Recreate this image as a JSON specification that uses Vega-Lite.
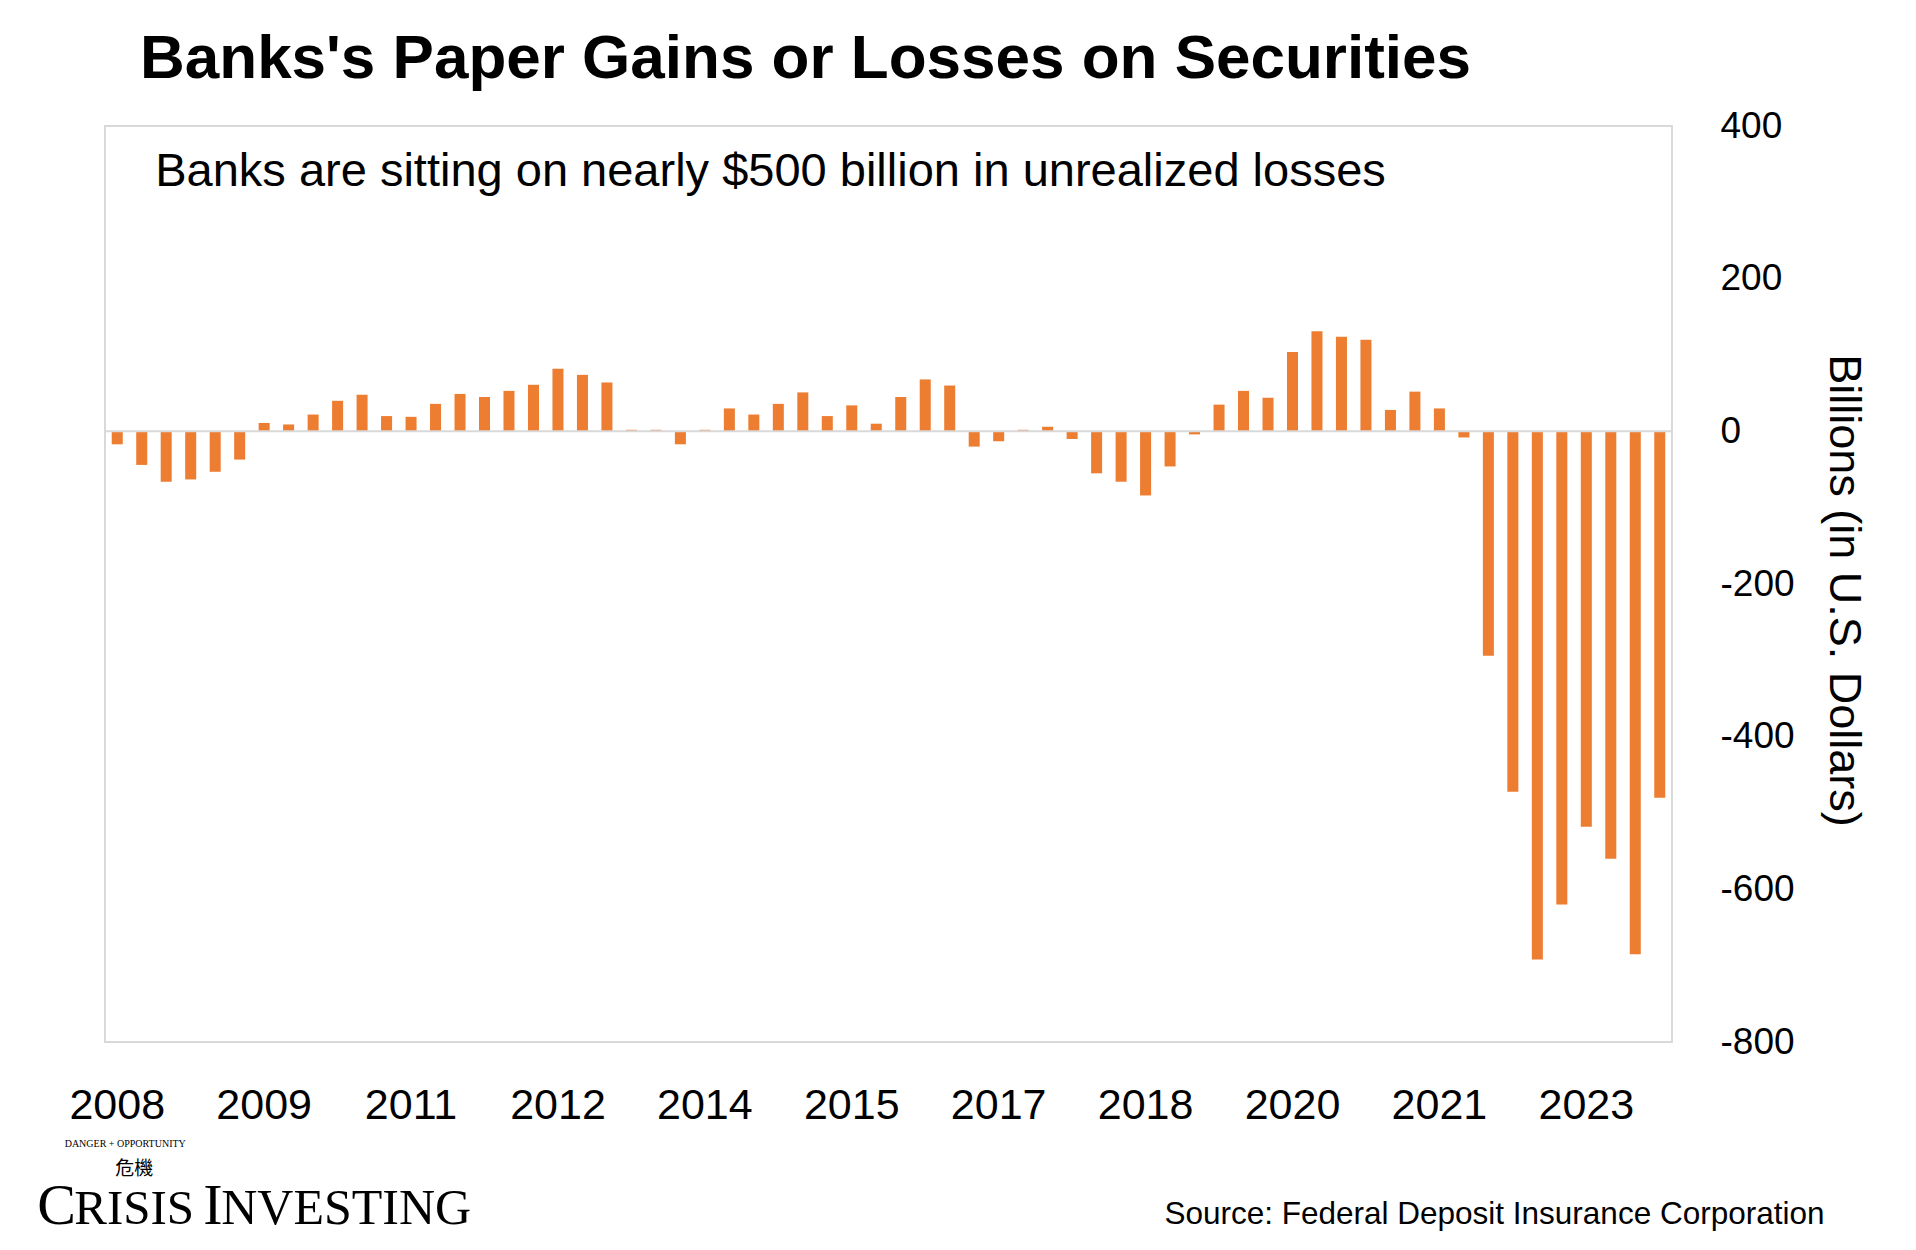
{
  "$schema": "https://vega.github.io/schema/vega-lite/v6.json",
  "width": 1567,
  "height": 916,
  "autosize": {"type": "none"},
  "padding": {"left": 105, "top": 126, "right": 244, "bottom": 208},
  "background": "white",
  "title": {
    "text": "Banks's Paper Gains or Losses on Securities",
    "anchor": "start",
    "frame": "group",
    "font": "Liberation Sans",
    "fontSize": 62,
    "fontWeight": "bold",
    "color": "black",
    "dx": 35,
    "offset": 16
  },
  "config": {
    "view": {"stroke": "#d9d9d9", "strokeWidth": 2},
    "font": "Liberation Sans"
  },
  "layer": [
    {
      "data": {
        "values": [
          {"quarter": "2008Q1", "value": -17}, {"quarter": "2008Q2", "value": -44}, {"quarter": "2008Q3", "value": -66}, {"quarter": "2008Q4", "value": -63},
          {"quarter": "2009Q1", "value": -53}, {"quarter": "2009Q2", "value": -37}, {"quarter": "2009Q3", "value": 11}, {"quarter": "2009Q4", "value": 9},
          {"quarter": "2010Q1", "value": 22}, {"quarter": "2010Q2", "value": 40}, {"quarter": "2010Q3", "value": 48}, {"quarter": "2010Q4", "value": 20},
          {"quarter": "2011Q1", "value": 19}, {"quarter": "2011Q2", "value": 36}, {"quarter": "2011Q3", "value": 49}, {"quarter": "2011Q4", "value": 45},
          {"quarter": "2012Q1", "value": 53}, {"quarter": "2012Q2", "value": 61}, {"quarter": "2012Q3", "value": 82}, {"quarter": "2012Q4", "value": 74},
          {"quarter": "2013Q1", "value": 64}, {"quarter": "2013Q2", "value": 2}, {"quarter": "2013Q3", "value": 2}, {"quarter": "2013Q4", "value": -17},
          {"quarter": "2014Q1", "value": 2}, {"quarter": "2014Q2", "value": 30}, {"quarter": "2014Q3", "value": 22}, {"quarter": "2014Q4", "value": 36},
          {"quarter": "2015Q1", "value": 51}, {"quarter": "2015Q2", "value": 20}, {"quarter": "2015Q3", "value": 34}, {"quarter": "2015Q4", "value": 10},
          {"quarter": "2016Q1", "value": 45}, {"quarter": "2016Q2", "value": 68}, {"quarter": "2016Q3", "value": 60}, {"quarter": "2016Q4", "value": -20},
          {"quarter": "2017Q1", "value": -13}, {"quarter": "2017Q2", "value": 2}, {"quarter": "2017Q3", "value": 6}, {"quarter": "2017Q4", "value": -10},
          {"quarter": "2018Q1", "value": -55}, {"quarter": "2018Q2", "value": -66}, {"quarter": "2018Q3", "value": -84}, {"quarter": "2018Q4", "value": -46},
          {"quarter": "2019Q1", "value": -4}, {"quarter": "2019Q2", "value": 35}, {"quarter": "2019Q3", "value": 53}, {"quarter": "2019Q4", "value": 44},
          {"quarter": "2020Q1", "value": 104}, {"quarter": "2020Q2", "value": 131}, {"quarter": "2020Q3", "value": 124}, {"quarter": "2020Q4", "value": 120},
          {"quarter": "2021Q1", "value": 28}, {"quarter": "2021Q2", "value": 52}, {"quarter": "2021Q3", "value": 30}, {"quarter": "2021Q4", "value": -8},
          {"quarter": "2022Q1", "value": -294}, {"quarter": "2022Q2", "value": -472}, {"quarter": "2022Q3", "value": -692}, {"quarter": "2022Q4", "value": -620},
          {"quarter": "2023Q1", "value": -518}, {"quarter": "2023Q2", "value": -560}, {"quarter": "2023Q3", "value": -685}, {"quarter": "2023Q4", "value": -480}
        ]
      },
      "mark": {"type": "bar", "color": "#ED7D31"},
      "encoding": {
        "x": {
          "field": "quarter",
          "type": "ordinal",
          "sort": null,
          "scale": {"paddingInner": 0.55, "paddingOuter": 0.275},
          "axis": {
            "values": ["2008Q1", "2009Q3", "2011Q1", "2012Q3", "2014Q1", "2015Q3", "2017Q1", "2018Q3", "2020Q1", "2021Q3", "2023Q1"],
            "labelExpr": "substring(datum.value, 0, 4)",
            "labelAngle": 0,
            "labelFontSize": 43,
            "labelColor": "black",
            "labelBaseline": "alphabetic",
            "labelPadding": 76,
            "labelOverlap": false,
            "ticks": false,
            "tickSize": 0,
            "domain": false,
            "grid": false,
            "title": "Source: Federal Deposit Insurance Corporation",
            "titleFontSize": 31.5,
            "titleFontWeight": "normal",
            "titleColor": "black",
            "titleX": 1719,
            "titleY": 181,
            "titleAlign": "right",
            "titleBaseline": "alphabetic",
            "titleAngle": 0
          }
        },
        "y": {
          "field": "value",
          "type": "quantitative",
          "scale": {"domain": [-800, 400], "nice": false, "zero": false},
          "axis": {
            "orient": "right",
            "values": [-800, -600, -400, -200, 0, 200, 400],
            "labelExpr": "'' + datum.value",
            "labelFontSize": 37,
            "labelColor": "black",
            "labelAlign": "left",
            "labelBaseline": "middle",
            "labelPadding": 48,
            "ticks": false,
            "tickSize": 0,
            "domain": false,
            "grid": false,
            "title": "Billions (in U.S. Dollars)",
            "titleFontSize": 45,
            "titleFontWeight": "normal",
            "titleColor": "black",
            "titleAngle": 90,
            "titleX": 157,
            "titleY": 464,
            "titleAlign": "center",
            "titleBaseline": "alphabetic"
          }
        }
      }
    },
    {
      "data": {"values": [{}]},
      "mark": {"type": "rule", "color": "#d9d9d9", "strokeWidth": 2},
      "encoding": {"y": {"datum": 0, "type": "quantitative"}}
    },
    {
      "data": {"values": [{"label": "Banks are sitting on nearly $500 billion in unrealized losses"}]},
      "mark": {"type": "text", "align": "left", "baseline": "alphabetic", "fontSize": 47, "color": "black", "dx": 38},
      "encoding": {
        "x": {"datum": "2008Q1", "type": "ordinal"},
        "y": {"datum": 321, "type": "quantitative"},
        "text": {"field": "label"}
      }
    },
    {
      "data": {"values": [{"label": "C"}]},
      "mark": {"type": "text", "align": "left", "baseline": "alphabetic", "font": "Liberation Serif", "fontSize": 58, "color": "black", "dx": -80},
      "encoding": {
        "x": {"datum": "2008Q1", "type": "ordinal"},
        "y": {"datum": -1038, "type": "quantitative"},
        "text": {"field": "label"}
      }
    },
    {
      "data": {"values": [{"label": "RISIS"}]},
      "mark": {"type": "text", "align": "left", "baseline": "alphabetic", "font": "Liberation Serif", "fontSize": 49, "color": "black", "dx": -43},
      "encoding": {
        "x": {"datum": "2008Q1", "type": "ordinal"},
        "y": {"datum": -1038, "type": "quantitative"},
        "text": {"field": "label"}
      }
    },
    {
      "data": {"values": [{"label": "I"}]},
      "mark": {"type": "text", "align": "left", "baseline": "alphabetic", "font": "Liberation Serif", "fontSize": 58, "color": "black", "dx": 86},
      "encoding": {
        "x": {"datum": "2008Q1", "type": "ordinal"},
        "y": {"datum": -1038, "type": "quantitative"},
        "text": {"field": "label"}
      }
    },
    {
      "data": {"values": [{"label": "NVESTING"}]},
      "mark": {"type": "text", "align": "left", "baseline": "alphabetic", "font": "Liberation Serif", "fontSize": 50, "color": "black", "dx": 104},
      "encoding": {
        "x": {"datum": "2008Q1", "type": "ordinal"},
        "y": {"datum": -1038, "type": "quantitative"},
        "text": {"field": "label"}
      }
    },
    {
      "data": {"values": [{"label": "危機"}]},
      "mark": {"type": "text", "align": "center", "baseline": "middle", "font": "Noto Sans CJK TC", "fontSize": 19, "color": "black", "dx": 17},
      "encoding": {
        "x": {"datum": "2008Q1", "type": "ordinal"},
        "y": {"datum": -966, "type": "quantitative"},
        "text": {"field": "label"}
      }
    },
    {
      "data": {"values": [{"label": "DANGER + OPPORTUNITY"}]},
      "mark": {"type": "text", "align": "center", "baseline": "middle", "font": "Liberation Serif", "fontSize": 10, "color": "black", "dx": 8},
      "encoding": {
        "x": {"datum": "2008Q1", "type": "ordinal"},
        "y": {"datum": -934, "type": "quantitative"},
        "text": {"field": "label"}
      }
    }
  ]
}
